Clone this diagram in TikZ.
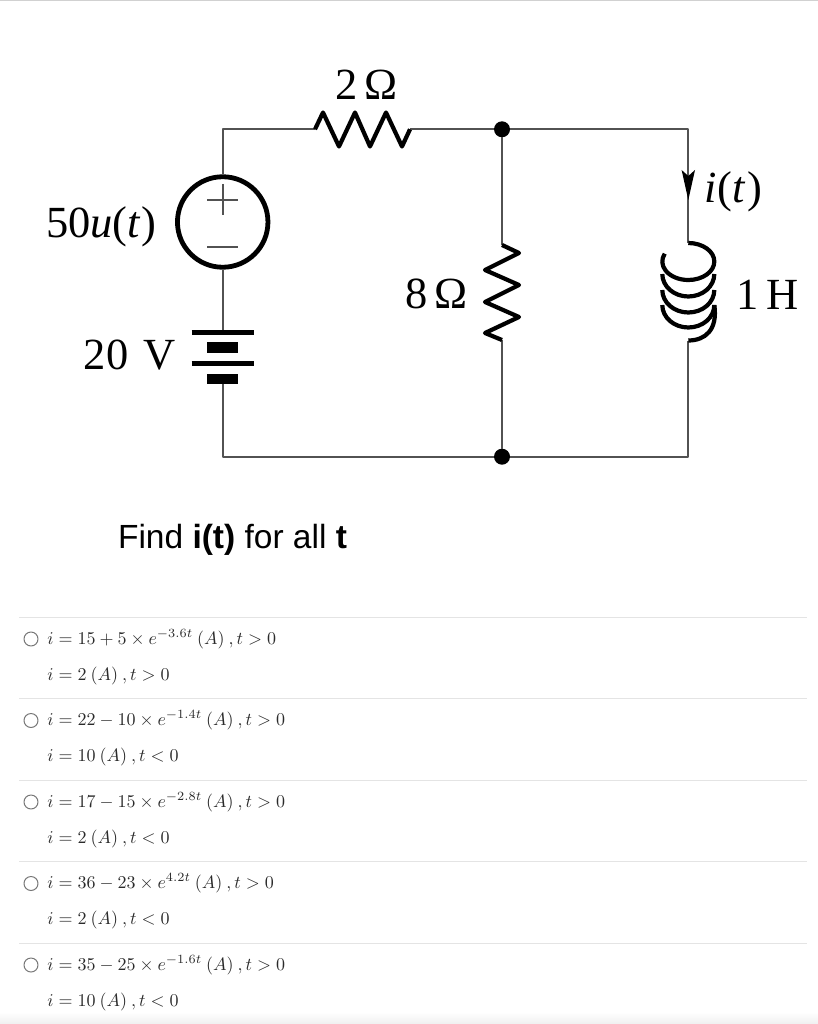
\documentclass[tikz,border=0pt]{standalone}
\usepackage{amsmath}
\usepackage{amssymb}
\usepackage{xcolor}
\usepackage[no-math]{fontspec}
\setmainfont{Liberation Serif}
\newfontfamily\findfont{Liberation Sans}
\definecolor{rulegray}{HTML}{E4E4E4}
\definecolor{textgray}{HTML}{2A2A2A}
\definecolor{radiogray}{HTML}{777777}
\tikzset{
  wire/.style={line width=1.8pt,draw=black!68},
  part/.style={line width=4.2pt,line join=round},
  lab/.style={font=\fontsize{44.5}{44.5}\selectfont,inner sep=0pt},
  opt/.style={anchor=base west,inner sep=0pt,text=textgray,scale=1.8,transform shape},
  dot/.style={circle,fill=black,inner sep=0pt,minimum size=16pt},
}
\begin{document}
\begin{tikzpicture}[x=1pt,y=-1pt,line join=bevel]
\useasboundingbox (0,0) rectangle (818,1024);
\coordinate (TL) at (222.7,129.3);
\coordinate (BL) at (222.7,456.7);
\coordinate (TR) at (688.3,129.3);
\coordinate (BR) at (688.3,456.7);
\coordinate (Rl) at (315,129.3);
\coordinate (Rr) at (410,129.3);
\coordinate (Pt) at (502,245);
\coordinate (Pb) at (502,340);
\coordinate (Lt) at (688.3,243);
\coordinate (Lb) at (688.3,340.5);
\coordinate (Bt) at (222.7,332.3);
\coordinate (Bb) at (222.7,379);
\coordinate (Tb) at (688.3,200);

\node [dot] (N1) at (502,129.3) {};
\node [dot] (N2) at (502,456.7) {};
\node [circle,draw,line width=4.8pt,minimum size=90.5pt,inner sep=0pt] (S) at (222.7,222) {};

% wires
\draw [wire] (S.north) -- (TL) -- (Rl);
\draw [wire] (Rr) -- (N1) -- (TR) -- (Lt);
\draw [wire] (Lb) -- (BR) -- (N2) -- (BL) -- (Bb);
\draw [wire] (S.south) -- (Bt);
\draw [wire] (N1) -- (Pt);
\draw [wire] (Pb) -- (N2);

% 2 ohm
\draw [part] (Rl) -- (323,112.5) -- (339,146.5) -- (355,112.5) -- (370,146.5) -- (386,112.5) -- (402,146.5) -- (Rr);
% 8 ohm
\draw [part] (Pt) -- (519,253) -- (485,270) -- (519,285) -- (485,302) -- (519,317) -- (485,333) -- (Pb);

% source signs
\draw [wire] (207,200) -- (238,200);
\draw [wire] (222.7,184) -- (222.7,215);
\draw [wire] (207,246.7) -- (238,246.7);

% battery
\draw [line width=5pt] (191.7,332.3) -- (254,332.3);
\draw [line width=10.7pt] (207,347.7) -- (238,347.7);
\draw [line width=5pt] (191.7,363.3) -- (254,363.3);
\draw [line width=10.7pt] (207,379) -- (238,379);

% coil
\draw [part] (Lt) arc[start angle=90,end angle=-90,x radius=26pt,y radius=18.5pt] arc[start angle=270,end angle=155,x radius=26pt,y radius=18.5pt];
\foreach \y in {274,290,305}
  \draw [part] (662.3,\y) arc[start angle=180,end angle=360,x radius=26pt,y radius=22.5pt];
\draw [part] (714.3,305) .. controls (718,330) and (705,340.5) .. (Lb);

% arrow
\fill (Tb) -- (681.6,170) -- (688.3,176) -- (695,170) -- cycle;

% labels
\node [lab] (L2) at (366.5,85) {2\,Ω};
\node [lab] (L8) at (436.5,294) {8\,Ω};
\node [lab] (L1) at (767.5,295) {1\,H};
\node [lab] (Lu) at (101,227) {50\textit{u}(\textit{t})};
\node [lab] (Lv) at (129.5,355) {20\,\,V};
\node [lab] (Li) at (733.5,192) {\textit{i}\kern1pt(\textit{t}\kern2pt)};
\node [inner sep=0pt,font=\findfont\fontsize{33.5}{33.5}\selectfont] (Q) at (232.5,540) {Find \textbf{i(t)} for all \textbf{t}};

% page edges
\shade [top color=white,bottom color=black!6] (0,1012) rectangle (818,1024);
\draw [black!18,line width=1.5pt] (0,0.5) -- (818,0.5);

% options
\foreach \y in {617,698.5,780,861.5,943}
  \draw [rulegray,line width=1pt] (19,\y) -- (807,\y);
\foreach \y/\a/\b [count=\n] in {
  644/{i=15+5\times e^{-3.6t}\:(A)\:,t>0}/{i=2\:(A)\:,t>0},
  725.5/{i=22-10\times e^{-1.4t}\:(A)\:,t>0}/{i=10\:(A)\:,t<0},
  807/{i=17-15\times e^{-2.8t}\:(A)\:,t>0}/{i=2\:(A)\:,t<0},
  888.5/{i=36-23\times e^{4.2t}\:(A)\:,t>0}/{i=2\:(A)\:,t<0},
  970/{i=35-25\times e^{-1.6t}\:(A)\:,t>0}/{i=10\:(A)\:,t<0}}{
  \node [circle,draw=radiogray,line width=1pt,minimum size=14pt,inner sep=0pt] (C\n) at (31,\y-5) {};
  \node [opt] (A\n) at (47,\y) {$\a$};
  \node [opt] (B\n) at (47,\y+36) {$\b$};
}
\end{tikzpicture}
\end{document}
